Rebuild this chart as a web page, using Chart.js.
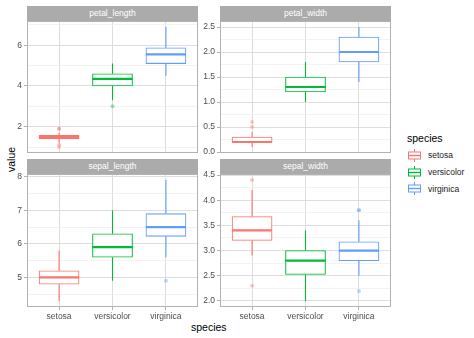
<!DOCTYPE html>
<html lang="en">
<head>
<meta charset="UTF-8">
<title>Iris measurements by species</title>
<script src="https://cdn.jsdelivr.net/npm/chart.js"></script>
<style>
  body { margin: 0; background: #fff; font-family: 'Liberation Sans', Arial, sans-serif; }
  .stage { position: relative; width: 474px; height: 338px; overflow: hidden; }
  .stage canvas { position: absolute; left: 0; top: 0; }
  .strip {
    position: absolute; height: 15px; background: #ababab; color: #fff;
    font-size: 8.5px; line-height: 15px; text-align: center;
  }
  .axis-title { position: absolute; font-size: 10.5px; color: #000; white-space: nowrap; }
  .legend { position: absolute; left: 407px; top: 131px; }
  .legend .title { font-size: 10.5px; color: #000; height: 14px; line-height: 14px; margin-bottom: 2px; }
  .legend .row { display: flex; align-items: center; height: 16.7px; }
  .legend .row span { font-size: 8.5px; color: #1a1a1a; margin-left: 6px; }
</style>
</head>
<body>
<div class="stage" id="stage">
  <div class="axis-title" style="left:2px; top:157px; transform: rotate(-90deg); transform-origin: 9px 6px;">value</div>
  <div class="axis-title" style="left:191px; top:321px;">species</div>
  <div class="legend" id="legend"><div class="title">species</div></div>
</div>

<script>
const species = ['setosa', 'versicolor', 'virginica'];
const speciesColors = ['#F8766D', '#00BA38', '#619CFF'];
const outlierColors = ['rgba(248,118,109,0.4)', 'rgba(0,186,56,0.4)', 'rgba(97,156,255,0.4)'];

// per species: lower whisker, Q1, median, Q3, upper whisker
const petalLengthStats = [[1.2, 1.4, 1.5, 1.575, 1.7], [3.3, 4.0, 4.35, 4.6, 5.1], [4.5, 5.1, 5.55, 5.875, 6.9]];
const petalLengthOutliers = [[1.0, 1.1, 1.9, 1.9], [3.0], []];
const petalLengthTicks = [2, 4, 6];
const petalLengthMinor = [1, 3, 5, 7];

const petalWidthStats = [[0.1, 0.2, 0.2, 0.3, 0.4], [1.0, 1.2, 1.3, 1.5, 1.8], [1.4, 1.8, 2.0, 2.3, 2.5]];
const petalWidthOutliers = [[0.5, 0.6], [], []];
const petalWidthTicks = [0, 0.5, 1, 1.5, 2, 2.5];
const petalWidthMinor = [0.25, 0.75, 1.25, 1.75, 2.25];

const sepalLengthStats = [[4.3, 4.8, 5.0, 5.2, 5.8], [4.9, 5.6, 5.9, 6.3, 7.0], [5.6, 6.225, 6.5, 6.9, 7.9]];
const sepalLengthOutliers = [[], [], [4.9]];
const sepalLengthTicks = [5, 6, 7, 8];
const sepalLengthMinor = [4.5, 5.5, 6.5, 7.5];

const sepalWidthStats = [[2.9, 3.2, 3.4, 3.675, 4.2], [2.0, 2.525, 2.8, 3.0, 3.4], [2.5, 2.8, 3.0, 3.175, 3.6]];
const sepalWidthOutliers = [[2.3, 4.4], [], [2.2, 3.8, 3.8]];
const sepalWidthTicks = [2, 2.5, 3, 3.5, 4, 4.5];
const sepalWidthMinor = [2.25, 2.75, 3.25, 3.75, 4.25];

const panels = [
  { title: 'petal_length', stats: petalLengthStats, outliers: petalLengthOutliers, ticks: petalLengthTicks, minor: petalLengthMinor, digits: 0, left: 27, right: 198, top: 21, bottom: 153, xLabels: false },
  { title: 'petal_width', stats: petalWidthStats, outliers: petalWidthOutliers, ticks: petalWidthTicks, minor: petalWidthMinor, digits: 1, left: 220, right: 391, top: 21, bottom: 153, xLabels: false },
  { title: 'sepal_length', stats: sepalLengthStats, outliers: sepalLengthOutliers, ticks: sepalLengthTicks, minor: sepalLengthMinor, digits: 0, left: 27, right: 198, top: 174, bottom: 307, xLabels: true },
  { title: 'sepal_width', stats: sepalWidthStats, outliers: sepalWidthOutliers, ticks: sepalWidthTicks, minor: sepalWidthMinor, digits: 1, left: 220, right: 391, top: 174, bottom: 307, xLabels: true }
];

Chart.defaults.font.family = "'Liberation Sans', Arial, sans-serif";

const Y_AXIS_W = 26;
const X_AXIS_H = 14;
const stage = document.getElementById('stage');

// grey frame around each facet, drawn over the boxes like ggplot's panel border
const panelBorder = {
  id: 'panelBorder',
  afterDatasetsDraw(chart) {
    const a = chart.chartArea;
    const c = chart.ctx;
    c.save();
    c.strokeStyle = '#b3b3b3';
    c.lineWidth = 1;
    c.strokeRect(Math.round(a.left) + 0.5, Math.round(a.top) + 0.5,
                 Math.round(a.right - a.left) - 1, Math.round(a.bottom - a.top) - 1);
    c.restore();
  }
};

const isMajor = ctx => ctx.tick && ctx.tick.major;

function makePanel(p) {
  const strip = document.createElement('div');
  strip.className = 'strip';
  strip.style.left = p.left + 'px';
  strip.style.width = (p.right - p.left) + 'px';
  strip.style.top = (p.top - 15) + 'px';
  strip.textContent = p.title;
  stage.appendChild(strip);

  const canvas = document.createElement('canvas');
  canvas.width = 474;
  canvas.height = 338;
  stage.appendChild(canvas);

  // ggplot-style 5% expansion of the data range
  const all = p.stats.flat().concat(p.outliers.flat());
  const lo = Math.min(...all), hi = Math.max(...all);
  const pad = (hi - lo) * 0.05;
  const boxW = (p.right - p.left) * 0.75 / 3.2;

  const datasets = [{
    type: 'bar',
    data: p.stats.map((s, i) => ({ x: i + 1, y: [s[1], s[3]] })),
    backgroundColor: '#ffffff',
    borderColor: speciesColors,
    borderWidth: 1.1,
    borderSkipped: false,
    barThickness: boxW,
    order: 3
  }];
  p.stats.forEach((s, i) => {
    // whiskers
    datasets.push({
      type: 'line',
      data: [{ x: i + 1, y: s[0] }, { x: i + 1, y: s[1] }, { x: i + 1, y: null }, { x: i + 1, y: s[3] }, { x: i + 1, y: s[4] }],
      borderColor: speciesColors[i], borderWidth: 1.1, pointRadius: 0, spanGaps: false, order: 2
    });
    // median
    datasets.push({
      type: 'line',
      data: [{ x: i + 0.625, y: s[2] }, { x: i + 1.375, y: s[2] }],
      borderColor: speciesColors[i], borderWidth: 2.2, pointRadius: 0, order: 1
    });
    // outliers
    datasets.push({
      type: 'line',
      data: p.outliers[i].map(v => ({ x: i + 1, y: v })),
      showLine: false, pointRadius: 2, pointBorderWidth: 0,
      pointBackgroundColor: outlierColors[i], order: 0
    });
  });

  new Chart(canvas, {
    type: 'bar',
    data: { datasets },
    options: {
      responsive: false,
      animation: false,
      devicePixelRatio: 1,
      events: [],
      layout: {
        padding: {
          left: p.left - Y_AXIS_W,
          right: 474 - p.right,
          top: p.top,
          bottom: 338 - p.bottom - (p.xLabels ? X_AXIS_H : 0)
        }
      },
      plugins: { legend: { display: false }, tooltip: { enabled: false } },
      scales: {
        x: {
          type: 'linear',
          min: 0.4,
          max: 3.6,
          offset: false,
          border: { display: false },
          afterBuildTicks: s => { s.ticks = [1, 2, 3].map(v => ({ value: v, major: true })); },
          afterFit: s => { s.height = p.xLabels ? X_AXIS_H : 0; },
          grid: { offset: false, color: '#dedede', lineWidth: 1, drawTicks: p.xLabels, tickLength: 3, tickColor: '#b3b3b3' },
          ticks: {
            display: p.xLabels, autoSkip: false, maxRotation: 0, padding: 1.5,
            color: '#4d4d4d', font: { size: 8.5 },
            callback: v => species[v - 1]
          }
        },
        y: {
          type: 'linear',
          min: lo - pad,
          max: hi + pad,
          beginAtZero: false,
          border: { display: false },
          afterBuildTicks: s => {
            s.ticks = p.ticks.map(v => ({ value: v, major: true }))
              .concat(p.minor.map(v => ({ value: v, major: false })))
              .sort((a, b) => a.value - b.value);
          },
          afterFit: s => { s.width = Y_AXIS_W; },
          grid: {
            color: ctx => isMajor(ctx) ? '#dedede' : '#eeeeee',
            lineWidth: ctx => isMajor(ctx) ? 1 : 0.7,
            tickLength: 3,
            tickColor: ctx => isMajor(ctx) ? '#b3b3b3' : 'rgba(0,0,0,0)'
          },
          ticks: {
            autoSkip: false, padding: 2,
            color: '#4d4d4d', font: { size: 8.5 },
            callback: (v, i, ticks) => ticks[i].major ? v.toFixed(p.digits) : ''
          }
        }
      }
    },
    plugins: [panelBorder]
  });
}

panels.forEach(makePanel);

// legend: one boxplot glyph per species
const legend = document.getElementById('legend');
species.forEach((name, i) => {
  const c = speciesColors[i];
  const row = document.createElement('div');
  row.className = 'row';
  row.innerHTML =
    '<svg width="15" height="15" viewBox="0 0 15 15">' +
    '<line x1="7.5" y1="1" x2="7.5" y2="4" stroke="' + c + '" stroke-width="1"/>' +
    '<line x1="7.5" y1="11" x2="7.5" y2="14" stroke="' + c + '" stroke-width="1"/>' +
    '<rect x="1.5" y="4" width="12" height="7" fill="#fff" stroke="' + c + '" stroke-width="1"/>' +
    '<line x1="1.5" y1="7.5" x2="13.5" y2="7.5" stroke="' + c + '" stroke-width="1.4"/>' +
    '</svg><span>' + name + '</span>';
  legend.appendChild(row);
});
</script>
</body>
</html>
